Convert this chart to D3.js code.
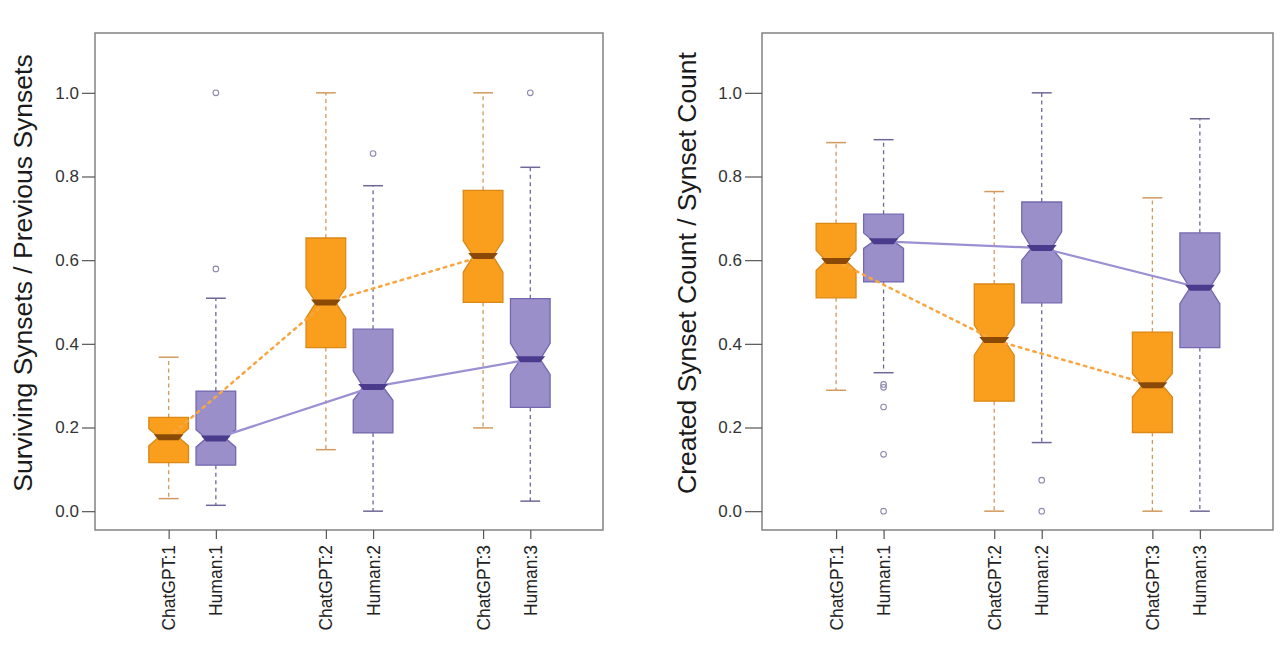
<!DOCTYPE html>
<html>
<head>
<meta charset="utf-8">
<script src="https://cdn.jsdelivr.net/npm/d3@7"></script>
<style>
html,body{margin:0;padding:0;background:#fff;}
svg{display:block;}
text{font-family:"Liberation Sans",Arial,sans-serif;}
</style>
</head>
<body>
<svg id="chart" width="1280" height="670"></svg>
<script>
// ---------- data ----------
const categories = ["ChatGPT:1","Human:1","ChatGPT:2","Human:2","ChatGPT:3","Human:3"];
const positions  = [1, 2, 4.33, 5.33, 7.66, 8.66];
const groups     = ["ChatGPT","Human","ChatGPT","Human","ChatGPT","Human"];
const yTicks     = [0, 0.2, 0.4, 0.6, 0.8, 1.0];

// Left panel: Surviving Synsets / Previous Synsets
const survWhiskerLow  = [0.030, 0.014, 0.147, 0.000, 0.199, 0.024];
const survQ1          = [0.116, 0.110, 0.391, 0.187, 0.499, 0.248];
const survNotchLow    = [0.156, 0.153, 0.462, 0.265, 0.571, 0.327];
const survMedian      = [0.177, 0.174, 0.499, 0.297, 0.610, 0.363];
const survNotchHigh   = [0.197, 0.195, 0.534, 0.335, 0.646, 0.401];
const survQ3          = [0.224, 0.287, 0.653, 0.435, 0.767, 0.508];
const survWhiskerHigh = [0.368, 0.509, 1.000, 0.778, 1.000, 0.822];
const survOutliers    = [[], [1.0, 0.579], [], [0.855], [], [1.0]];

// Right panel: Created Synset Count / Synset Count
const creWhiskerLow  = [0.289, 0.331, 0.000, 0.164, 0.000, 0.000];
const creQ1          = [0.510, 0.548, 0.263, 0.498, 0.188, 0.391];
const creNotchLow    = [0.575, 0.628, 0.373, 0.600, 0.273, 0.496];
const creMedian      = [0.598, 0.645, 0.409, 0.629, 0.301, 0.534];
const creNotchHigh   = [0.624, 0.665, 0.445, 0.668, 0.329, 0.572];
const creQ3          = [0.688, 0.710, 0.543, 0.739, 0.428, 0.665];
const creWhiskerHigh = [0.881, 0.888, 0.764, 1.000, 0.749, 0.938];
const creOutliers    = [[], [0.303, 0.296, 0.249, 0.136, 0.0], [], [0.074, 0.0], [], []];

// ---------- styles ----------
const style = {
  ChatGPT: {fill:"#FA9E1E", stroke:"#DB8815", median:"#8A4A06", whisker:"#D29A5C", line:"#F9A640", dash:"2.5,5", lw:2.5},
  Human:   {fill:"#9A8FC8", stroke:"#7468B0", median:"#4A3B8C", whisker:"#6E6898", line:"#9A90D2", dash:null, lw:2.2}
};

function buildRows(wl, q1, nl, md, nh, q3, wh, out){
  return categories.map((c,i)=>({cat:c, pos:positions[i], grp:groups[i],
    wl:wl[i], q1:q1[i], nl:nl[i], med:md[i], nh:nh[i], q3:q3[i], wh:wh[i], out:out[i]}));
}

const panels = [
  {left:95, right:603, title:"Surviving Synsets / Previous Synsets", titleX:32, tickLen:13, labelGap:3,
   rows: buildRows(survWhiskerLow, survQ1, survNotchLow, survMedian, survNotchHigh, survQ3, survWhiskerHigh, survOutliers)},
  {left:762, right:1273, title:"Created Synset Count / Synset Count", titleX:696, tickLen:17, labelGap:3,
   rows: buildRows(creWhiskerLow, creQ1, creNotchLow, creMedian, creNotchHigh, creQ3, creWhiskerHigh, creOutliers)}
];

const plotTop = 33, plotBottom = 530;
const svg = d3.select("#chart");
const boxW = 0.84; // in x units

panels.forEach(p => {
  const x = d3.scaleLinear().domain([-0.56, 10.2]).range([p.left, p.right]);
  const y = d3.scaleLinear().domain([-0.045, 1.143]).range([plotBottom, plotTop]);
  const g = svg.append("g");
  const half = (x(boxW) - x(0)) / 2;

  p.rows.forEach(r => {
    const s = style[r.grp];
    const cx = x(r.pos);
    // whiskers
    [[r.q3, r.wh],[r.q1, r.wl]].forEach(([a,b]) => {
      g.append("line").attr("x1",cx).attr("x2",cx).attr("y1",y(a)).attr("y2",y(b))
        .attr("stroke",s.whisker).attr("stroke-width",1.3).attr("stroke-dasharray","4,3.5");
      g.append("line").attr("x1",cx-half/2).attr("x2",cx+half/2).attr("y1",y(b)).attr("y2",y(b))
        .attr("stroke",s.whisker).attr("stroke-width",1.5);
    });
    // notched box
    const pts = [
      [cx-half, y(r.q1)], [cx-half, y(r.nl)], [cx-half/2, y(r.med)], [cx-half, y(r.nh)],
      [cx-half, y(r.q3)], [cx+half, y(r.q3)], [cx+half, y(r.nh)], [cx+half/2, y(r.med)],
      [cx+half, y(r.nl)], [cx+half, y(r.q1)]
    ];
    g.append("path").attr("d", d3.line()(pts) + "Z")
      .attr("fill", s.fill).attr("stroke", s.stroke).attr("stroke-width",1.3);
    // outliers
    r.out.forEach(v => {
      g.append("circle").attr("cx",cx).attr("cy",y(v)).attr("r",2.8)
        .attr("fill","none").attr("stroke","#8C88AE").attr("stroke-width",1.1);
    });
  });

  // median connecting lines
  ["ChatGPT","Human"].forEach(grp => {
    const s = style[grp];
    const rr = p.rows.filter(r => r.grp === grp);
    g.append("path").attr("d", d3.line().x(r=>x(r.pos)).y(r=>y(r.med))(rr))
      .attr("fill","none").attr("stroke",s.line).attr("stroke-width",s.lw)
      .attr("stroke-dasharray", s.dash).attr("stroke-linecap", s.dash ? "round" : "butt");
  });

  // medians (thick bands)
  p.rows.forEach(r => {
    const s = style[r.grp];
    const cx = x(r.pos), m = y(r.med);
    g.append("path").attr("d", d3.line()([
        [cx-half/2-5, m-3],[cx+half/2+5, m-3],[cx+half/2, m+3],[cx-half/2, m+3]]) + "Z")
      .attr("fill", s.median);
  });

  // frame
  g.append("rect").attr("x",p.left).attr("y",plotTop).attr("width",p.right-p.left).attr("height",plotBottom-plotTop)
    .attr("fill","none").attr("stroke","#8a8a8a").attr("stroke-width",1.6);

  // y axis
  const ya = d3.axisLeft(y).tickValues(yTicks).tickFormat(d3.format(".1f"))
    .tickSize(p.tickLen).tickPadding(p.labelGap);
  const yg = g.append("g").attr("transform",`translate(${p.left},0)`).call(ya);
  yg.select(".domain").remove();
  yg.selectAll(".tick line").attr("stroke","#555").attr("stroke-width",1.2);
  yg.selectAll(".tick text").attr("fill","#333").style("font-size","17px")
    .style("font-family",'"Liberation Sans",Arial,sans-serif');

  // x axis
  const xa = d3.axisBottom(x).tickValues(positions).tickFormat((d,i)=>categories[i])
    .tickSize(9).tickPadding(0);
  const xg = g.append("g").attr("transform",`translate(0,${plotBottom})`).call(xa);
  xg.select(".domain").remove();
  xg.selectAll(".tick line").attr("stroke","#555").attr("stroke-width",1.2);
  xg.selectAll(".tick text").attr("fill","#222").style("font-size","17.5px")
    .style("font-family",'"Liberation Sans",Arial,sans-serif')
    .attr("transform","rotate(-90)").attr("text-anchor","end")
    .attr("x",-15).attr("y",0).attr("dy","0.35em");

  // title
  g.append("text").attr("transform",`translate(${p.titleX},273) rotate(-90)`)
    .attr("text-anchor","middle").attr("fill","#1a1a1a")
    .style("font-size","26.5px").text(p.title);
});
</script>
</body>
</html>
